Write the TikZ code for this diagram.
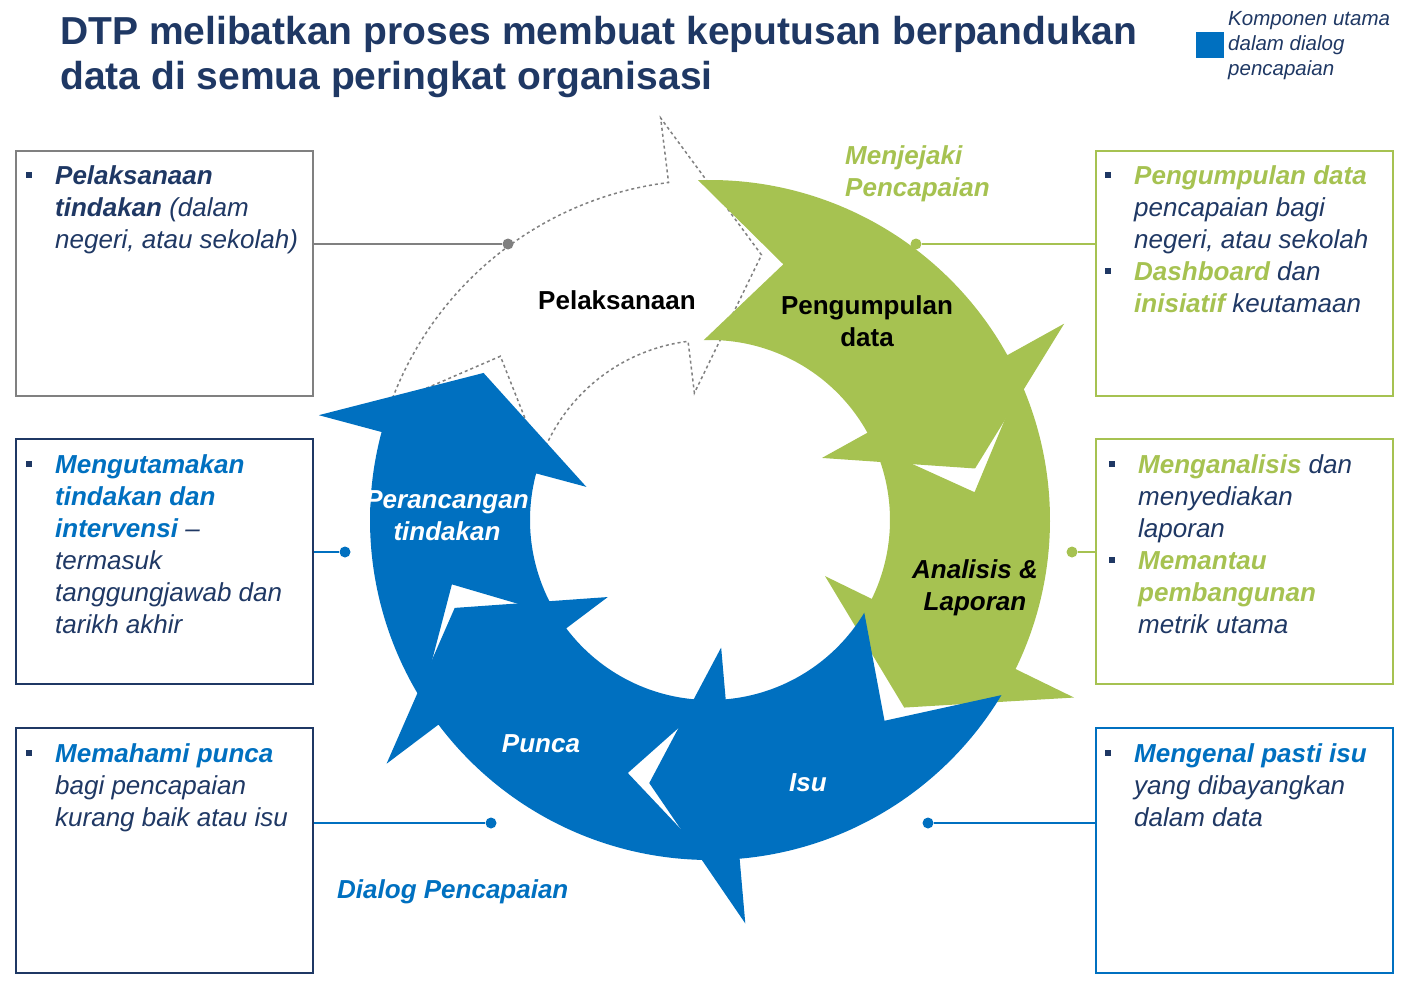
\documentclass[tikz,border=0pt]{standalone}
\usepackage{fontspec}
\setmainfont{Liberation Sans}
\definecolor{navy}{HTML}{1F3864}
\definecolor{dblue}{HTML}{0070C0}
\definecolor{lgreen}{HTML}{A6C251}
\definecolor{bgray}{HTML}{808080}
\newcommand{\bul}{\llap{\raisebox{6pt}{\rule{6pt}{6pt}}\hspace{23pt}}}
\newcommand{\seg}[2]{% start, tip
 (#1:340) arc[start angle=#1,end angle=#2-18,radius=340] -- (#2-18:405) -- (#2:270) -- (#2-18:128) -- (#2-18:180) arc[start angle=#2-18,end angle=#1,radius=180] -- (#1+18:266) -- cycle}
\tikzset{
 box/.style={draw,line width=2pt,minimum width=297pt,minimum height=245pt,anchor=north west},
 btxt/.style={anchor=north west,inner sep=0pt,align=left,font=\fontsize{26}{32}\selectfont\itshape,text=navy},
 dot/.style={circle,fill,inner sep=0pt,minimum size=11pt},
 conn/.style={line width=2pt},
 seglab/.style={font=\fontsize{26}{32}\selectfont\bfseries,align=center},
 seglabi/.style={font=\fontsize{26}{32}\selectfont\bfseries\itshape,align=center}
}
\begin{document}
\begin{tikzpicture}[x=1pt,y=-1pt]
\useasboundingbox (0,0) rectangle (1409,998);
% title
\node[anchor=north west,inner sep=0pt,align=left,text=navy,font=\fontsize{39}{45}\selectfont\bfseries] (title) at (60,16) {DTP melibatkan proses membuat keputusan berpandukan\\data di semua peringkat organisasi};
% legend
\fill[dblue] (1196,32) rectangle (1224,58);
\node[anchor=north west,inner sep=0pt,align=left,font=\fontsize{20.5}{25}\selectfont\itshape,text=navy] (leg) at (1228,11) {Komponen utama\\dalam dialog\\pencapaian};
% cycle
\begin{scope}[shift={(710,520)}]
\draw[bgray,dashed,line width=1.5pt,fill=white] \seg{200}{281};
\fill[lgreen] \seg{268}{349};
\fill[lgreen] \seg{336}{404};
\fill[dblue] \seg{391}{463};
\fill[dblue] \seg{450}{521};
\fill[dblue] \seg{508}{573};
\end{scope}
\node[seglab] (l1) at (617,300) {Pelaksanaan};
\node[seglab] (l2) at (867,321) {Pengumpulan\\data};
\node[seglabi] (l3) at (975,588) {Analisis \&\\Laporan};
\node[seglabi,text=white] (l4) at (808,783) {Isu};
\node[seglabi,text=white] (l5) at (541,744) {Punca};
\node[seglabi,text=white] (l6) at (447,516) {Perancangan\\tindakan};
\node[anchor=north west,inner sep=0pt,align=left,text=lgreen,font=\fontsize{26}{32}\selectfont\bfseries\itshape] (mj) at (845,145) {Menjejaki\\Pencapaian};
\node[anchor=west,inner sep=0pt,text=dblue,font=\fontsize{26}{32}\selectfont\bfseries\itshape] (dp) at (337,892) {Dialog Pencapaian};
% boxes
\node[box,draw=bgray] (b1) at (15,150) {};
\node[box,draw=navy] (b2) at (15,438) {};
\node[box,draw=navy] (b3) at (15,727) {};
\node[box,draw=lgreen] (b4) at (1095,150) {};
\node[box,draw=lgreen] (b5) at (1095,438) {};
\node[box,draw=dblue] (b6) at (1095,727) {};
\node[btxt] (t1) at (55,165) {\bul\textbf{Pelaksanaan}\\\textbf{tindakan} (dalam\\negeri, atau sekolah)};
\node[btxt] (t2) at (55,454) {\bul\textcolor{dblue}{\textbf{Mengutamakan}}\\\textcolor{dblue}{\textbf{tindakan dan}}\\\textcolor{dblue}{\textbf{intervensi}} –\\termasuk\\tanggungjawab dan\\tarikh akhir};
\node[btxt] (t3) at (55,743) {\bul\textcolor{dblue}{\textbf{Memahami punca}}\\bagi pencapaian\\kurang baik atau isu};
\node[btxt] (t4) at (1134,165) {\bul\textcolor{lgreen}{\textbf{Pengumpulan data}}\\pencapaian bagi\\negeri, atau sekolah\\\bul\textcolor{lgreen}{\textbf{Dashboard}} dan\\\textcolor{lgreen}{\textbf{inisiatif}} keutamaan};
\node[btxt] (t5) at (1138,454) {\bul\textcolor{lgreen}{\textbf{Menganalisis}} dan\\menyediakan\\laporan\\\bul\textcolor{lgreen}{\textbf{Memantau}}\\\textcolor{lgreen}{\textbf{pembangunan}}\\metrik utama};
\node[btxt] (t6) at (1134,743) {\bul\textcolor{dblue}{\textbf{Mengenal pasti isu}}\\yang dibayangkan\\dalam data};
% connectors
\node[dot,bgray] (d1) at (508,244) {};
\node[dot,dblue] (d2) at (345,552) {};
\node[dot,dblue] (d3) at (491,823) {};
\node[dot,lgreen] (d4) at (916,244) {};
\node[dot,lgreen] (d5) at (1072,552) {};
\node[dot,dblue] (d6) at (928,823) {};
\draw[conn,bgray] (b1.east |- d1) -- (d1);
\draw[conn,dblue] (b2.east |- d2) -- (d2);
\draw[conn,dblue] (b3.east |- d3) -- (d3);
\draw[conn,lgreen] (d4) -- (b4.west |- d4);
\draw[conn,lgreen] (d5) -- (b5.west |- d5);
\draw[conn,dblue] (d6) -- (b6.west |- d6);
\end{tikzpicture}
\end{document}
